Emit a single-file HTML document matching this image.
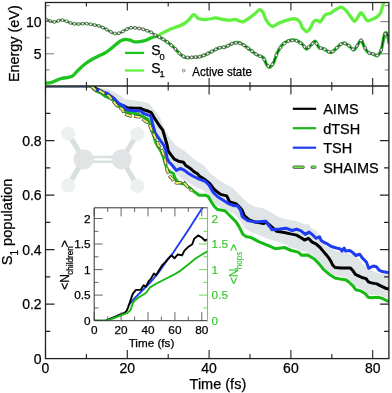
<!DOCTYPE html>
<html><head><meta charset="utf-8"><title>S1 population dynamics</title>
<style>
html,body{margin:0;padding:0;background:#fff;}
body{width:392px;height:393px;overflow:hidden;}
svg{display:block;}
svg text{stroke:#000;stroke-width:0.25px;}
svg text.g{fill:#2ec524;stroke:#2ec524;stroke-width:0.12px;}
</style></head>
<body>
<svg width="392" height="393" viewBox="0 0 392 393">
<rect width="392" height="393" fill="#fff"/>
<defs>
<clipPath id="cTop"><rect x="45.5" y="2.5" width="343.4" height="83.5"/></clipPath>
<clipPath id="cBot"><rect x="45.5" y="86.0" width="343.4" height="272.6"/></clipPath>
<clipPath id="cIns"><rect x="94.2" y="207.8" width="113.3" height="112.89999999999998"/></clipPath>
</defs>
<g clip-path="url(#cTop)">
<path d="M156.40,36.30C157.73,35.60 161.92,33.37 164.40,32.10C166.88,30.83 169.00,29.65 171.30,28.70C173.60,27.75 175.90,27.35 178.20,26.40C180.50,25.45 183.18,24.27 185.10,23.00C187.02,21.73 188.37,20.15 189.70,18.80C191.03,17.45 192.15,15.43 193.10,14.90C194.05,14.37 194.43,14.95 195.40,15.60C196.37,16.25 197.17,18.15 198.90,18.80C200.63,19.45 203.52,19.57 205.80,19.50C208.08,19.43 210.90,18.67 212.60,18.40C214.30,18.13 214.28,17.72 216.00,17.90C217.72,18.08 220.60,19.12 222.90,19.50C225.20,19.88 227.70,20.20 229.80,20.20C231.90,20.20 233.40,19.23 235.50,19.50C237.60,19.77 239.92,22.18 242.40,21.80C244.88,21.42 248.10,18.73 250.40,17.20C252.70,15.67 254.67,13.87 256.20,12.60C257.73,11.33 258.45,9.60 259.60,9.60C260.75,9.60 261.95,10.75 263.10,12.60C264.25,14.45 264.98,18.40 266.50,20.70C268.02,23.00 270.10,26.02 272.20,26.40C274.30,26.78 276.60,24.03 279.10,23.00C281.60,21.97 284.52,20.90 287.20,20.20C289.88,19.50 293.10,18.53 295.20,18.80C297.30,19.07 298.67,20.42 299.80,21.80C300.93,23.18 301.23,25.77 302.00,27.10C302.77,28.43 303.63,29.03 304.40,29.80C305.17,30.57 305.67,31.88 306.60,31.70C307.53,31.52 308.85,30.35 310.00,28.70C311.15,27.05 312.35,23.22 313.50,21.80C314.65,20.38 315.75,20.20 316.90,20.20C318.05,20.20 319.05,22.68 320.40,21.80C321.75,20.92 323.40,16.30 325.00,14.90C326.60,13.50 328.38,14.17 330.00,13.40C331.62,12.63 332.85,11.35 334.70,10.30C336.55,9.25 339.25,7.10 341.10,7.10C342.95,7.10 344.22,8.72 345.80,10.30C347.38,11.88 349.15,14.75 350.60,16.60C352.05,18.45 353.32,21.27 354.50,21.40C355.68,21.53 356.65,18.85 357.70,17.40C358.75,15.95 359.88,13.10 360.80,12.70C361.72,12.30 362.13,13.68 363.20,15.00C364.27,16.32 365.88,19.80 367.20,20.60C368.52,21.40 369.40,20.47 371.10,19.80C372.80,19.13 375.82,17.78 377.40,16.60C378.98,15.42 379.67,14.68 380.60,12.70C381.53,10.72 382.33,6.82 383.00,4.70C383.67,2.58 384.33,0.78 384.60,0.00" fill="none" stroke="#62f040" stroke-width="3.3" stroke-linejoin="round" stroke-linecap="round" />
<path d="M46.00,83.10C46.82,83.02 49.32,82.98 50.90,82.60C52.48,82.22 53.78,81.48 55.50,80.80C57.22,80.12 59.28,79.03 61.20,78.50C63.12,77.97 65.08,78.05 67.00,77.60C68.92,77.15 70.80,77.07 72.70,75.80C74.60,74.53 76.30,72.00 78.40,70.00C80.50,68.00 83.00,65.60 85.30,63.80C87.60,62.00 89.90,60.53 92.20,59.20C94.50,57.87 96.80,56.95 99.10,55.80C101.40,54.65 103.70,53.75 106.00,52.30C108.30,50.85 110.60,48.93 112.90,47.10C115.20,45.27 117.82,42.57 119.80,41.30C121.78,40.03 123.08,39.68 124.80,39.50C126.52,39.32 128.57,39.82 130.10,40.20C131.63,40.58 132.68,41.53 134.00,41.80C135.32,42.07 136.37,41.95 138.00,41.80C139.63,41.65 141.88,41.43 143.80,40.90C145.72,40.37 147.40,39.37 149.50,38.60C151.60,37.83 154.30,36.30 156.40,36.30C158.50,36.30 160.18,37.57 162.10,38.60C164.02,39.63 165.98,41.08 167.90,42.50C169.82,43.92 171.68,45.30 173.60,47.10C175.52,48.90 177.48,51.58 179.40,53.30C181.32,55.02 183.00,56.72 185.10,57.40C187.20,58.08 189.70,57.48 192.00,57.40C194.30,57.32 196.80,57.28 198.90,56.90C201.00,56.52 202.70,55.87 204.60,55.10C206.50,54.33 208.38,53.28 210.30,52.30C212.22,51.32 214.48,49.98 216.10,49.20C217.72,48.42 218.48,47.95 220.00,47.60C221.52,47.25 223.18,47.77 225.20,47.10C227.22,46.43 230.00,44.37 232.10,43.60C234.20,42.83 235.90,42.30 237.80,42.50C239.70,42.70 241.40,43.55 243.50,44.80C245.60,46.05 248.10,48.28 250.40,50.00C252.70,51.72 255.18,53.87 257.30,55.10C259.42,56.33 261.57,55.87 263.10,57.40C264.63,58.93 265.47,62.65 266.50,64.30C267.53,65.95 268.15,67.50 269.30,67.30C270.45,67.10 272.15,65.33 273.40,63.10C274.65,60.87 275.47,56.77 276.80,53.90C278.13,51.03 279.67,48.00 281.40,45.90C283.13,43.80 284.90,42.25 287.20,41.30C289.50,40.35 292.72,39.75 295.20,40.20C297.68,40.65 300.22,42.53 302.10,44.00C303.98,45.47 304.98,48.87 306.50,49.00C308.02,49.13 309.73,46.08 311.20,44.80C312.67,43.52 313.97,40.80 315.30,41.30C316.63,41.80 317.78,46.57 319.20,47.80C320.62,49.03 322.27,48.05 323.80,48.70C325.33,49.35 327.07,51.10 328.40,51.70C329.73,52.30 330.47,52.88 331.80,52.30C333.13,51.72 334.87,49.57 336.40,48.20C337.93,46.83 339.65,44.93 341.00,44.10C342.35,43.27 343.15,42.90 344.50,43.20C345.85,43.50 347.57,44.77 349.10,45.90C350.63,47.03 352.37,50.00 353.70,50.00C355.03,50.00 355.85,47.53 357.10,45.90C358.35,44.27 359.98,40.00 361.20,40.20C362.42,40.40 363.17,45.00 364.40,47.10C365.63,49.20 367.13,51.67 368.60,52.80C370.07,53.93 371.75,53.43 373.20,53.90C374.65,54.37 375.97,56.25 377.30,55.60C378.63,54.95 379.98,53.60 381.20,50.00C382.42,46.40 383.57,36.60 384.60,34.00C385.63,31.40 386.67,32.98 387.40,34.40C388.13,35.82 388.73,41.15 389.00,42.50" fill="none" stroke="#1ec41e" stroke-width="3.3" stroke-linejoin="round" stroke-linecap="round" />
<path d="M46.00,19.50C46.67,19.75 48.50,20.58 50.00,21.00C51.50,21.42 53.50,22.08 55.00,22.00C56.50,21.92 57.83,20.83 59.00,20.50C60.17,20.17 60.67,19.83 62.00,20.00C63.33,20.17 65.33,20.92 67.00,21.50C68.67,22.08 70.17,23.08 72.00,23.50C73.83,23.92 75.83,24.00 78.00,24.00C80.17,24.00 82.67,23.42 85.00,23.50C87.33,23.58 89.67,24.08 92.00,24.50C94.33,24.92 96.83,25.33 99.00,26.00C101.17,26.67 103.17,27.58 105.00,28.50C106.83,29.42 108.50,30.67 110.00,31.50C111.50,32.33 112.67,33.17 114.00,33.50C115.33,33.83 116.67,33.75 118.00,33.50C119.33,33.25 120.67,32.67 122.00,32.00C123.33,31.33 124.50,30.20 126.00,29.50C127.50,28.80 129.18,28.05 131.00,27.80C132.82,27.55 134.77,27.73 136.90,28.00C139.03,28.27 141.50,28.72 143.80,29.40C146.10,30.08 148.60,31.03 150.70,32.10C152.80,33.17 155.45,35.18 156.40,35.80" fill="none" stroke="#2ed42e" stroke-width="2.6" stroke-linejoin="round" stroke-linecap="round" />
<path d="M46.00,19.50C46.67,19.75 48.50,20.58 50.00,21.00C51.50,21.42 53.50,22.08 55.00,22.00C56.50,21.92 57.83,20.83 59.00,20.50C60.17,20.17 60.67,19.83 62.00,20.00C63.33,20.17 65.33,20.92 67.00,21.50C68.67,22.08 70.17,23.08 72.00,23.50C73.83,23.92 75.83,24.00 78.00,24.00C80.17,24.00 82.67,23.42 85.00,23.50C87.33,23.58 89.67,24.08 92.00,24.50C94.33,24.92 96.83,25.33 99.00,26.00C101.17,26.67 103.17,27.58 105.00,28.50C106.83,29.42 108.50,30.67 110.00,31.50C111.50,32.33 112.67,33.17 114.00,33.50C115.33,33.83 116.67,33.75 118.00,33.50C119.33,33.25 120.67,32.67 122.00,32.00C123.33,31.33 124.50,30.20 126.00,29.50C127.50,28.80 129.18,28.05 131.00,27.80C132.82,27.55 134.77,27.73 136.90,28.00C139.03,28.27 141.50,28.72 143.80,29.40C146.10,30.08 148.60,31.03 150.70,32.10C152.80,33.17 154.50,34.72 156.40,35.80C158.30,36.88 160.18,37.48 162.10,38.60C164.02,39.72 165.98,41.08 167.90,42.50C169.82,43.92 171.68,45.30 173.60,47.10C175.52,48.90 177.48,51.58 179.40,53.30C181.32,55.02 183.00,56.72 185.10,57.40C187.20,58.08 189.70,57.48 192.00,57.40C194.30,57.32 196.80,57.28 198.90,56.90C201.00,56.52 202.70,55.87 204.60,55.10C206.50,54.33 208.38,53.28 210.30,52.30C212.22,51.32 214.48,49.98 216.10,49.20C217.72,48.42 218.48,47.95 220.00,47.60C221.52,47.25 223.18,47.77 225.20,47.10C227.22,46.43 230.00,44.37 232.10,43.60C234.20,42.83 235.90,42.30 237.80,42.50C239.70,42.70 241.40,43.55 243.50,44.80C245.60,46.05 248.10,48.28 250.40,50.00C252.70,51.72 255.18,53.87 257.30,55.10C259.42,56.33 261.57,55.87 263.10,57.40C264.63,58.93 265.47,62.65 266.50,64.30C267.53,65.95 268.15,67.50 269.30,67.30C270.45,67.10 272.15,65.33 273.40,63.10C274.65,60.87 275.47,56.77 276.80,53.90C278.13,51.03 279.67,48.00 281.40,45.90C283.13,43.80 284.90,42.25 287.20,41.30C289.50,40.35 292.72,39.75 295.20,40.20C297.68,40.65 300.22,42.53 302.10,44.00C303.98,45.47 304.98,48.87 306.50,49.00C308.02,49.13 309.73,46.08 311.20,44.80C312.67,43.52 313.97,40.80 315.30,41.30C316.63,41.80 317.78,46.57 319.20,47.80C320.62,49.03 322.27,48.05 323.80,48.70C325.33,49.35 327.07,51.10 328.40,51.70C329.73,52.30 330.47,52.88 331.80,52.30C333.13,51.72 334.87,49.57 336.40,48.20C337.93,46.83 339.65,44.93 341.00,44.10C342.35,43.27 343.15,42.90 344.50,43.20C345.85,43.50 347.57,44.77 349.10,45.90C350.63,47.03 352.37,50.00 353.70,50.00C355.03,50.00 355.85,47.53 357.10,45.90C358.35,44.27 359.98,40.00 361.20,40.20C362.42,40.40 363.17,45.00 364.40,47.10C365.63,49.20 367.13,51.67 368.60,52.80C370.07,53.93 371.75,53.43 373.20,53.90C374.65,54.37 375.97,56.25 377.30,55.60C378.63,54.95 379.98,53.60 381.20,50.00C382.42,46.40 383.57,36.60 384.60,34.00C385.63,31.40 386.67,32.98 387.40,34.40C388.13,35.82 388.73,41.15 389.00,42.50" fill="none" stroke="#111" stroke-width="0.9" stroke-linejoin="round" stroke-linecap="round" />
<g fill="#f4f4f4" stroke="#555" stroke-width="0.85"><circle cx="46.3" cy="19.6" r="1.45"/><circle cx="50.3" cy="21.1" r="1.45"/><circle cx="54.4" cy="21.9" r="1.45"/><circle cx="58.4" cy="20.7" r="1.45"/><circle cx="62.4" cy="20.1" r="1.45"/><circle cx="66.5" cy="21.3" r="1.45"/><circle cx="70.5" cy="22.9" r="1.45"/><circle cx="74.5" cy="23.7" r="1.45"/><circle cx="78.6" cy="24.0" r="1.45"/><circle cx="82.6" cy="23.7" r="1.45"/><circle cx="86.7" cy="23.7" r="1.45"/><circle cx="90.7" cy="24.3" r="1.45"/><circle cx="94.7" cy="25.1" r="1.45"/><circle cx="98.8" cy="25.9" r="1.45"/><circle cx="102.8" cy="27.6" r="1.45"/><circle cx="106.8" cy="29.6" r="1.45"/><circle cx="110.9" cy="31.9" r="1.45"/><circle cx="114.9" cy="33.5" r="1.45"/><circle cx="118.9" cy="33.2" r="1.45"/><circle cx="123.0" cy="31.4" r="1.45"/><circle cx="127.0" cy="29.2" r="1.45"/><circle cx="131.0" cy="27.8" r="1.45"/><circle cx="135.1" cy="27.9" r="1.45"/><circle cx="139.1" cy="28.4" r="1.45"/><circle cx="143.1" cy="29.3" r="1.45"/><circle cx="147.2" cy="30.7" r="1.45"/><circle cx="151.2" cy="32.4" r="1.45"/><circle cx="155.2" cy="35.1" r="1.45"/><circle cx="159.3" cy="37.2" r="1.45"/><circle cx="163.3" cy="39.4" r="1.45"/><circle cx="167.4" cy="42.1" r="1.45"/><circle cx="171.4" cy="45.3" r="1.45"/><circle cx="175.4" cy="49.0" r="1.45"/><circle cx="179.5" cy="53.3" r="1.45"/><circle cx="183.5" cy="56.2" r="1.45"/><circle cx="187.5" cy="57.4" r="1.45"/><circle cx="191.6" cy="57.4" r="1.45"/><circle cx="195.6" cy="57.1" r="1.45"/><circle cx="199.6" cy="56.7" r="1.45"/><circle cx="203.7" cy="55.4" r="1.45"/><circle cx="207.7" cy="53.6" r="1.45"/><circle cx="211.7" cy="51.5" r="1.45"/><circle cx="215.8" cy="49.4" r="1.45"/><circle cx="219.8" cy="47.7" r="1.45"/><circle cx="223.8" cy="47.2" r="1.45"/><circle cx="227.9" cy="45.7" r="1.45"/><circle cx="231.9" cy="43.7" r="1.45"/><circle cx="235.9" cy="42.9" r="1.45"/><circle cx="240.0" cy="43.4" r="1.45"/><circle cx="244.0" cy="45.2" r="1.45"/><circle cx="248.1" cy="48.2" r="1.45"/><circle cx="252.1" cy="51.2" r="1.45"/><circle cx="256.1" cy="54.2" r="1.45"/><circle cx="260.2" cy="56.2" r="1.45"/><circle cx="264.2" cy="59.6" r="1.45"/><circle cx="268.2" cy="66.1" r="1.45"/><circle cx="272.3" cy="64.3" r="1.45"/><circle cx="276.3" cy="55.3" r="1.45"/><circle cx="280.3" cy="47.8" r="1.45"/><circle cx="284.4" cy="43.5" r="1.45"/><circle cx="288.4" cy="41.1" r="1.45"/><circle cx="292.4" cy="40.6" r="1.45"/><circle cx="296.5" cy="40.9" r="1.45"/><circle cx="300.5" cy="43.1" r="1.45"/><circle cx="304.5" cy="46.8" r="1.45"/><circle cx="308.6" cy="47.1" r="1.45"/><circle cx="312.6" cy="43.6" r="1.45"/><circle cx="316.6" cy="43.5" r="1.45"/><circle cx="320.7" cy="48.1" r="1.45"/><circle cx="324.7" cy="49.3" r="1.45"/><circle cx="328.8" cy="51.8" r="1.45"/><circle cx="332.8" cy="51.4" r="1.45"/><circle cx="336.8" cy="47.8" r="1.45"/><circle cx="340.9" cy="44.2" r="1.45"/><circle cx="344.9" cy="43.4" r="1.45"/><circle cx="348.9" cy="45.8" r="1.45"/><circle cx="353.0" cy="49.3" r="1.45"/><circle cx="357.0" cy="46.0" r="1.45"/><circle cx="361.0" cy="40.4" r="1.45"/><circle cx="365.1" cy="48.0" r="1.45"/><circle cx="369.1" cy="52.9" r="1.45"/><circle cx="373.1" cy="53.9" r="1.45"/><circle cx="377.2" cy="55.5" r="1.45"/><circle cx="381.2" cy="50.0" r="1.45"/><circle cx="385.2" cy="34.1" r="1.45"/><circle cx="389.3" cy="42.5" r="1.45"/></g>
</g>
<polyline points="125.1,52.9 144.1,52.9" fill="none" stroke="#1ec41e" stroke-width="2.3" stroke-linecap="butt" stroke-linejoin="round"/>
<polyline points="125.1,70.5 144.1,70.5" fill="none" stroke="#62f040" stroke-width="2.3" stroke-linecap="butt" stroke-linejoin="round"/>
<text x="151.3" y="55.3" font-size="14" font-family="'Liberation Sans', Arial, Helvetica, sans-serif">S<tspan font-size="9.4" dx="-1.2" dy="4.6">0</tspan></text>
<text x="151.3" y="72.7" font-size="14" font-family="'Liberation Sans', Arial, Helvetica, sans-serif">S<tspan font-size="9.4" dx="-1.2" dy="4.6">1</tspan></text>
<circle cx="183.7" cy="70.6" r="1.35" fill="#fff" stroke="#5a5a5a" stroke-width="0.75"/>
<text x="192.3" y="75.9" font-size="12.6" textLength="59.6" lengthAdjust="spacingAndGlyphs" font-family="'Liberation Sans', Arial, Helvetica, sans-serif">Active state</text>
<g clip-path="url(#cBot)">
<polygon points="92.0,86.0 101.3,88.1 108.4,89.1 114.5,92.2 121.7,96.3 124.0,99.1 134.2,100.6 144.4,102.1 149.5,103.7 152.6,108.2 156.7,112.3 160.2,118.0 164.0,127.7 169.1,136.6 175.5,145.5 181.9,149.3 184.5,151.0 190.0,155.5 196.1,160.7 203.8,165.3 209.9,173.0 217.6,179.1 225.2,183.7 232.9,188.3 240.0,195.3 247.7,203.0 255.3,206.8 263.0,208.3 270.6,212.1 278.3,216.7 285.9,219.0 290.0,219.9 297.7,221.4 305.3,224.5 308.4,223.7 311.4,228.3 316.0,230.5 319.0,235.5 326.0,246.0 336.0,251.0 347.0,253.0 356.0,256.0 362.6,263.7 370.3,269.8 377.9,272.9 389.0,274.7 389.0,299.0 386.0,298.0 382.0,296.0 378.0,294.8 372.0,295.0 368.0,294.5 365.0,291.0 361.0,288.5 356.0,287.0 353.0,283.5 349.0,279.5 346.0,277.0 340.0,276.5 335.0,275.5 330.3,272.5 323.5,266.8 318.9,261.0 314.0,256.5 305.0,251.5 300.0,250.5 296.0,248.5 290.0,247.5 286.0,244.5 281.0,242.7 275.0,241.0 268.3,238.9 262.0,236.5 255.5,233.8 250.0,231.5 245.3,228.5 240.0,220.5 235.0,214.5 230.0,211.7 225.7,210.2 220.6,207.7 215.5,204.6 211.4,200.5 208.4,194.4 203.3,190.3 196.1,187.2 190.3,184.0 182.7,179.5 176.0,174.0 172.2,168.0 169.2,163.5 167.1,159.0 165.6,151.0 164.0,146.5 160.2,141.0 155.1,133.0 152.6,124.0 150.0,117.5 144.0,114.5 134.0,111.5 124.0,108.0 114.0,100.5 102.0,93.5 92.0,87.5" fill="#dfe4e6"/>
<polyline points="45.5,85.7 91.5,85.7 92.0,86.1 96.0,88.5 102.0,91.5 108.0,94.5 114.0,98.5 118.6,104.0 124.0,106.2 127.1,107.7 134.2,108.2 140.3,108.2 143.4,109.8 148.5,111.3 151.0,112.3 152.6,114.9 154.6,118.4 156.7,121.5 159.6,126.0 162.8,130.2 164.7,136.6 167.2,145.5 168.2,151.0 171.2,155.1 174.3,159.2 178.4,161.2 183.5,162.2 185.5,165.3 189.6,167.9 193.7,171.4 197.8,174.0 199.2,176.0 205.3,179.8 209.9,183.7 214.5,189.8 220.6,194.4 226.7,195.9 229.8,202.0 235.9,203.6 239.0,206.6 242.0,210.0 244.6,216.0 249.2,219.8 255.3,222.1 263.8,223.4 266.0,222.0 270.6,225.9 276.7,231.3 284.4,232.5 290.5,233.9 296.6,235.1 300.7,237.5 304.5,240.1 308.4,238.3 312.2,242.1 316.0,243.9 320.1,247.5 323.1,251.1 326.2,254.7 329.3,258.7 331.3,262.0 332.6,265.0 335.1,267.5 341.2,268.0 350.4,268.0 353.2,271.1 355.4,274.3 358.6,275.9 361.8,277.5 366.1,278.6 368.2,281.8 371.4,282.9 376.8,283.9 381.1,286.1 385.4,288.2 389.0,289.1" fill="none" stroke="#000" stroke-width="3.0"  stroke-linejoin="round" stroke-linecap="round"/>
<polyline points="45.5,85.7 91.0,85.7 92.1,87.1 96.2,91.2 101.3,93.2 105.3,96.3 110.4,98.3 114.5,101.4 118.6,106.5 122.7,108.5 124.0,111.3 128.1,112.3 134.2,113.3 138.3,114.4 142.4,116.4 147.5,119.0 149.2,121.3 150.2,125.4 152.2,131.5 154.3,137.7 156.3,143.8 159.5,149.0 161.0,151.5 163.5,157.5 165.2,163.3 167.0,169.0 170.2,171.9 173.3,173.5 174.8,177.6 177.3,181.6 180.4,183.2 183.5,183.7 186.5,185.7 190.0,188.0 194.6,192.1 199.2,195.2 205.3,195.2 208.4,196.7 211.4,202.0 214.5,206.6 217.6,209.5 224.9,210.7 230.2,216.0 235.6,221.4 239.1,226.7 242.7,234.0 246.1,236.6 250.7,237.4 259.2,241.8 268.4,245.7 275.3,248.7 284.4,247.5 291.3,250.5 298.2,252.1 301.7,255.3 307.4,254.9 314.3,259.0 318.9,263.6 323.5,269.4 330.3,275.1 334.9,278.0 340.0,279.0 345.8,279.7 348.8,282.0 353.2,286.1 355.9,289.8 360.7,290.9 365.0,293.6 368.2,297.3 371.4,297.7 377.9,297.3 382.2,298.4 386.4,300.5 389.0,301.6" fill="none" stroke="#15ba15" stroke-width="3.0"  stroke-linejoin="round" stroke-linecap="round"/>
<polyline points="45.5,85.7 91.5,85.7 92.1,86.1 94.1,89.1 98.2,90.2 102.3,92.2 107.4,93.2 110.4,96.3 114.5,99.3 118.6,103.4 122.7,105.5 124.0,105.7 126.0,109.3 130.1,110.3 136.2,110.8 141.3,111.3 143.4,113.3 147.5,114.9 150.5,115.9 151.6,119.5 152.6,123.6 155.1,132.8 160.2,140.4 164.0,145.5 165.6,150.0 167.1,158.2 169.2,162.2 172.2,165.3 176.3,170.4 180.4,168.4 184.5,170.4 188.6,173.5 193.7,176.5 199.2,179.1 205.3,181.4 209.1,185.2 213.0,192.1 217.6,196.7 223.7,200.5 228.3,203.6 232.9,205.4 237.5,205.9 240.5,210.0 242.3,216.7 247.7,220.6 255.3,222.1 266.0,221.3 269.1,225.9 272.1,229.7 279.8,229.0 285.9,228.2 292.0,230.5 296.6,229.3 300.7,230.6 305.3,234.4 309.1,232.1 313.0,235.2 316.0,238.3 319.6,236.8 321.1,240.4 324.2,242.4 328.2,244.4 331.3,246.5 336.4,248.0 340.5,249.0 342.0,251.1 344.1,248.0 345.6,251.1 349.7,250.6 352.7,252.6 356.0,255.5 359.6,254.2 362.6,258.3 366.4,262.1 368.7,268.3 373.3,266.0 376.4,266.7 378.9,270.0 382.2,271.6 389.0,272.7" fill="none" stroke="#1f3cf5" stroke-width="3.0"  stroke-linejoin="round" stroke-linecap="round"/>
<polyline points="45.5,85.5 91.5,85.5 92.1,86.5 95.1,89.7 100.0,91.0 105.3,94.2 109.0,96.0 113.5,101.4 116.6,105.5 122.7,109.6 124.0,113.9 130.1,115.9 135.2,116.4 140.0,117.2 144.1,120.3 149.2,123.4 150.2,126.4 151.7,130.5 154.3,135.6 156.8,140.7 158.4,145.0 161.5,149.3 164.1,156.1 166.1,165.3 167.1,170.4 170.3,176.9 172.4,178.7 173.9,182.3 176.7,183.0 180.3,182.6 183.9,182.3 184.6,183.4 187.4,186.6 190.3,189.4 192.4,190.9" fill="none" stroke="#484848" stroke-width="3.3" stroke-dasharray="7 2.2" stroke-linecap="butt" stroke-linejoin="round"/>
<polyline points="45.5,85.5 91.5,85.5 92.1,86.5 95.1,89.7 100.0,91.0 105.3,94.2 109.0,96.0 113.5,101.4 116.6,105.5 122.7,109.6 124.0,113.9 130.1,115.9 135.2,116.4 140.0,117.2 144.1,120.3 149.2,123.4 150.2,126.4 151.7,130.5 154.3,135.6 156.8,140.7 158.4,145.0 161.5,149.3 164.1,156.1 166.1,165.3 167.1,170.4 170.3,176.9 172.4,178.7 173.9,182.3 176.7,183.0 180.3,182.6 183.9,182.3 184.6,183.4 187.4,186.6 190.3,189.4 192.4,190.9" fill="none" stroke="#e4ef62" stroke-width="1.9" stroke-dasharray="6 3.2" stroke-dashoffset="-0.5" stroke-linecap="butt" stroke-linejoin="round"/>
</g>
<line x1="68.3" y1="133.6" x2="83.6" y2="159.3" stroke="#d9dfdf" stroke-width="5"/><line x1="68.3" y1="185.4" x2="83.6" y2="159.3" stroke="#d9dfdf" stroke-width="5"/><line x1="137.4" y1="134.1" x2="121.6" y2="159.3" stroke="#d9dfdf" stroke-width="5"/><line x1="137.4" y1="185.9" x2="121.6" y2="159.3" stroke="#d9dfdf" stroke-width="5"/><line x1="83.6" y1="157.1" x2="121.6" y2="157.1" stroke="#d9dfdf" stroke-width="2.5"/><line x1="83.6" y1="161.8" x2="121.6" y2="161.8" stroke="#d9dfdf" stroke-width="2.5"/><circle cx="68.3" cy="133.6" r="7.1" fill="#edf0f1"/><circle cx="68.3" cy="185.4" r="7.1" fill="#edf0f1"/><circle cx="137.4" cy="134.1" r="7.1" fill="#edf0f1"/><circle cx="137.4" cy="185.9" r="7.1" fill="#edf0f1"/><circle cx="83.6" cy="159.3" r="10.1" fill="#e0e4e4"/><circle cx="121.6" cy="159.3" r="10.1" fill="#e0e4e4"/>
<polyline points="292.8,108.8 316.2,108.8" fill="none" stroke="#000" stroke-width="2.2" stroke-linecap="butt" stroke-linejoin="round"/>
<polyline points="292.8,128.2 316.2,128.2" fill="none" stroke="#1cb51c" stroke-width="2.2" stroke-linecap="butt" stroke-linejoin="round"/>
<polyline points="292.8,147.7 316.2,147.7" fill="none" stroke="#1f3cf5" stroke-width="2.2" stroke-linecap="butt" stroke-linejoin="round"/>
<rect x="292.8" y="165.9" width="11.6" height="2.6" rx="1.3" fill="#66e044" stroke="#555" stroke-width="0.8"/>
<rect x="310.9" y="165.9" width="5.2" height="2.6" rx="1.3" fill="#66e044" stroke="#555" stroke-width="0.8"/>
<text x="323.2" y="114.3" font-size="14.5" font-family="'Liberation Sans', Arial, Helvetica, sans-serif">AIMS</text>
<text x="323.2" y="133.7" font-size="14.5" font-family="'Liberation Sans', Arial, Helvetica, sans-serif">dTSH</text>
<text x="323.2" y="153.2" font-size="14.5" font-family="'Liberation Sans', Arial, Helvetica, sans-serif">TSH</text>
<text x="323.2" y="172.6" font-size="14.5" font-family="'Liberation Sans', Arial, Helvetica, sans-serif">SHAIMS</text>
<rect x="94.2" y="207.8" width="113.3" height="112.9" fill="#fff"/><g clip-path="url(#cIns)"><polyline points="128.5,305.5 133.7,299.1 139.8,293.0 145.9,286.8 150.0,282.8 157.7,273.6 165.3,262.9 173.0,253.0 180.6,241.5 188.3,230.0 202.5,207.8" fill="none" stroke="#1f3cf5" stroke-width="1.9"  stroke-linejoin="round" stroke-linecap="round"/><polyline points="94.2,320.7 106.1,320.5 115.3,316.7 119.9,314.7 124.5,312.9 126.8,310.6 128.3,306.8 129.9,302.2 131.4,297.6 132.9,293.7 136.0,289.9 140.6,289.9 143.6,285.3 145.9,286.8 149.0,280.7 150.5,279.5 153.8,273.6 156.1,275.2 158.4,271.3 162.2,265.2 165.3,262.1 168.4,258.3 171.4,255.3 174.5,258.3 177.6,254.5 182.1,255.3 184.4,250.7 188.3,246.8 192.1,244.5 194.4,238.4 198.2,235.4 202.0,237.7 205.1,240.7 207.4,239.2" fill="none" stroke="#000" stroke-width="1.9"  stroke-linejoin="round" stroke-linecap="round"/><polyline points="94.2,320.7 107.7,320.5 115.3,317.5 121.4,315.2 127.6,312.9 130.6,309.8 132.9,302.9 135.2,299.9 139.8,296.8 145.9,293.0 150.0,287.4 157.7,282.8 165.3,279.0 173.0,275.2 180.6,270.6 188.3,264.4 195.9,258.3 202.0,254.5 207.5,251.4" fill="none" stroke="#15ba15" stroke-width="1.9"  stroke-linejoin="round" stroke-linecap="round"/></g><path d="M94.2,207.8v8.5M94.2,320.7v-8.5M107.7,207.8v4.2M107.7,320.7v-4.2M121.1,207.8v8.5M121.1,320.7v-8.5M134.6,207.8v4.2M134.6,320.7v-4.2M148.0,207.8v8.5M148.0,320.7v-8.5M161.4,207.8v4.2M161.4,320.7v-4.2M174.9,207.8v8.5M174.9,320.7v-8.5M188.3,207.8v4.2M188.3,320.7v-4.2M201.8,207.8v8.5M201.8,320.7v-8.5M94.2,307.9h4.2M94.2,295.1h8.5M94.2,282.4h4.2M94.2,269.6h8.5M94.2,256.8h4.2M94.2,244.0h8.5M94.2,231.3h4.2M94.2,218.5h8.5" stroke="#666" stroke-width="1" fill="none"/><path d="M207.5,307.9h-4.2M207.5,295.1h-8.5M207.5,282.4h-4.2M207.5,269.6h-8.5M207.5,256.8h-4.2M207.5,244.0h-8.5M207.5,231.3h-4.2M207.5,218.5h-8.5" stroke="#6ddc58" stroke-width="1" fill="none"/><path d="M207.5,207.8H94.2V320.7H207.5" stroke="#333" stroke-width="1" fill="none"/><path d="M207.5,207.3V321.2" stroke="#5fd84a" stroke-width="1.1" fill="none"/><text x="90.6" y="324.9" font-size="11.8" text-anchor="end" font-family="'Liberation Sans', Arial, Helvetica, sans-serif">0</text><text x="211.6" y="324.9" font-size="11.8" class="g" font-family="'Liberation Sans', Arial, Helvetica, sans-serif">0</text><text x="90.6" y="299.3" font-size="11.8" text-anchor="end" font-family="'Liberation Sans', Arial, Helvetica, sans-serif">0.5</text><text x="211.6" y="299.3" font-size="11.8" class="g" font-family="'Liberation Sans', Arial, Helvetica, sans-serif">0.5</text><text x="90.6" y="273.8" font-size="11.8" text-anchor="end" font-family="'Liberation Sans', Arial, Helvetica, sans-serif">1</text><text x="211.6" y="273.8" font-size="11.8" class="g" font-family="'Liberation Sans', Arial, Helvetica, sans-serif">1</text><text x="90.6" y="248.2" font-size="11.8" text-anchor="end" font-family="'Liberation Sans', Arial, Helvetica, sans-serif">1.5</text><text x="211.6" y="248.2" font-size="11.8" class="g" font-family="'Liberation Sans', Arial, Helvetica, sans-serif">1.5</text><text x="90.6" y="222.7" font-size="11.8" text-anchor="end" font-family="'Liberation Sans', Arial, Helvetica, sans-serif">2</text><text x="211.6" y="222.7" font-size="11.8" class="g" font-family="'Liberation Sans', Arial, Helvetica, sans-serif">2</text><text x="94.2" y="333.8" font-size="11.8" text-anchor="middle" font-family="'Liberation Sans', Arial, Helvetica, sans-serif">0</text><text x="121.1" y="333.8" font-size="11.8" text-anchor="middle" font-family="'Liberation Sans', Arial, Helvetica, sans-serif">20</text><text x="148.0" y="333.8" font-size="11.8" text-anchor="middle" font-family="'Liberation Sans', Arial, Helvetica, sans-serif">40</text><text x="174.9" y="333.8" font-size="11.8" text-anchor="middle" font-family="'Liberation Sans', Arial, Helvetica, sans-serif">60</text><text x="201.8" y="333.8" font-size="11.8" text-anchor="middle" font-family="'Liberation Sans', Arial, Helvetica, sans-serif">80</text><text x="151.5" y="347.0" font-size="11.7" text-anchor="middle" font-family="'Liberation Sans', Arial, Helvetica, sans-serif">Time (fs)</text><text transform="translate(68.7,289.8) rotate(-90)" font-size="12"  font-family="'Liberation Sans', Arial, Helvetica, sans-serif">&lt;N</text><text transform="translate(72.6,274.8) rotate(-90)" font-size="8.2"  font-family="'Liberation Sans', Arial, Helvetica, sans-serif">children</text><text transform="translate(68.7,247.2) rotate(-90)" font-size="12"  font-family="'Liberation Sans', Arial, Helvetica, sans-serif">&gt;</text><text transform="translate(238.2,284.3) rotate(-90)" font-size="12" class="g"  font-family="'Liberation Sans', Arial, Helvetica, sans-serif">&lt;N</text><text transform="translate(242.4,269.3) rotate(-90)" font-size="8.2" class="g"  font-family="'Liberation Sans', Arial, Helvetica, sans-serif">hops</text><text transform="translate(238.2,251.0) rotate(-90)" font-size="12" class="g"  font-family="'Liberation Sans', Arial, Helvetica, sans-serif">&gt;</text>
<path d="M45.5,2.5v8M45.5,86.0v-8M86.4,2.5v4M86.4,86.0v-4M127.3,2.5v8M127.3,86.0v-8M168.2,2.5v4M168.2,86.0v-4M209.1,2.5v8M209.1,86.0v-8M250.0,2.5v4M250.0,86.0v-4M290.9,2.5v8M290.9,86.0v-8M331.8,2.5v4M331.8,86.0v-4M372.7,2.5v8M372.7,86.0v-8M45.5,86.0v8.5M45.5,358.6v-8.5M86.4,86.0v4.5M86.4,358.6v-4.5M127.3,86.0v8.5M127.3,358.6v-8.5M168.2,86.0v4.5M168.2,358.6v-4.5M209.1,86.0v8.5M209.1,358.6v-8.5M250.0,86.0v4.5M250.0,358.6v-4.5M290.9,86.0v8.5M290.9,358.6v-8.5M331.8,86.0v4.5M331.8,358.6v-4.5M372.7,86.0v8.5M372.7,358.6v-8.5M45.5,331.4h4.8M388.9,331.4h-4.8M45.5,304.1h9M388.9,304.1h-9M45.5,276.9h4.8M388.9,276.9h-4.8M45.5,249.6h9M388.9,249.6h-9M45.5,222.4h4.8M388.9,222.4h-4.8M45.5,195.1h9M388.9,195.1h-9M45.5,167.9h4.8M388.9,167.9h-4.8M45.5,140.6h9M388.9,140.6h-9M45.5,113.4h4.8M388.9,113.4h-4.8" stroke="#222" stroke-width="1.1" fill="none"/>
<path d="M45.5,69.9h4.2M388.9,69.9h-4.2M45.5,53.8h8.5M388.9,53.8h-8.5M45.5,37.8h4.2M388.9,37.8h-4.2M45.5,21.7h8.5M388.9,21.7h-8.5M45.5,5.7h4.2M388.9,5.7h-4.2" stroke="#777" stroke-width="1.0" fill="none"/>
<rect x="45.5" y="2.5" width="343.4" height="356.1" fill="none" stroke="#222" stroke-width="1.3"/>
<line x1="45.5" y1="86.0" x2="388.9" y2="86.0" stroke="#222" stroke-width="1.3"/>
<text x="41.6" y="58.8" font-size="14" text-anchor="end" font-family="'Liberation Sans', Arial, Helvetica, sans-serif">5</text><text x="41.6" y="26.7" font-size="14" text-anchor="end" font-family="'Liberation Sans', Arial, Helvetica, sans-serif">10</text><text x="41.6" y="363.6" font-size="14" text-anchor="end" font-family="'Liberation Sans', Arial, Helvetica, sans-serif">0</text><text x="41.6" y="309.1" font-size="14" text-anchor="end" font-family="'Liberation Sans', Arial, Helvetica, sans-serif">0.2</text><text x="41.6" y="254.6" font-size="14" text-anchor="end" font-family="'Liberation Sans', Arial, Helvetica, sans-serif">0.4</text><text x="41.6" y="200.1" font-size="14" text-anchor="end" font-family="'Liberation Sans', Arial, Helvetica, sans-serif">0.6</text><text x="41.6" y="145.6" font-size="14" text-anchor="end" font-family="'Liberation Sans', Arial, Helvetica, sans-serif">0.8</text><text x="45.5" y="373.3" font-size="14" text-anchor="middle" font-family="'Liberation Sans', Arial, Helvetica, sans-serif">0</text><text x="127.3" y="373.3" font-size="14" text-anchor="middle" font-family="'Liberation Sans', Arial, Helvetica, sans-serif">20</text><text x="209.1" y="373.3" font-size="14" text-anchor="middle" font-family="'Liberation Sans', Arial, Helvetica, sans-serif">40</text><text x="290.9" y="373.3" font-size="14" text-anchor="middle" font-family="'Liberation Sans', Arial, Helvetica, sans-serif">60</text><text x="372.7" y="373.3" font-size="14" text-anchor="middle" font-family="'Liberation Sans', Arial, Helvetica, sans-serif">80</text><text x="217.9" y="389.0" font-size="14.5" text-anchor="middle" font-family="'Liberation Sans', Arial, Helvetica, sans-serif">Time (fs)</text><text transform="translate(18.9,43.65) rotate(-90)" font-size="14.4" text-anchor="middle" font-family="'Liberation Sans', Arial, Helvetica, sans-serif">Energy (eV)</text><text transform="translate(11.6,265.3) rotate(-90)" font-size="14.6" font-family="'Liberation Sans', Arial, Helvetica, sans-serif">S<tspan font-size="10" dy="6">1</tspan><tspan dy="-6"> population</tspan></text>
</svg>
</body></html>
